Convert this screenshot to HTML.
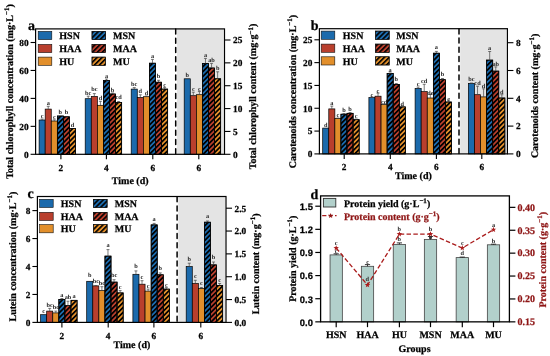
<!DOCTYPE html>
<html><head><meta charset="utf-8"><style>
html,body{margin:0;padding:0;background:#fff;width:550px;height:356px;overflow:hidden}
svg{display:block;will-change:transform} text{text-rendering:geometricPrecision}
</style></head><body>
<svg width="550" height="356" viewBox="0 0 550 356">
<rect width="550" height="356" fill="#fff"/>
<defs>
<pattern id="hatch" patternUnits="userSpaceOnUse" width="3.45" height="10" patternTransform="rotate(45)"><rect x="0" y="0" width="1.7" height="10" fill="#000"/></pattern>
<pattern id="hatch2" patternUnits="userSpaceOnUse" width="3.5" height="10" patternTransform="rotate(45)"><rect x="0" y="0" width="1.6" height="10" fill="#000"/></pattern>
</defs>
<rect x="176.90" y="28.90" width="46.60" height="125.40" fill="#e4e4e4"/>
<rect x="39.10" y="120.00" width="6.08" height="34.30" fill="#1b6aac" stroke="#000" stroke-width="0.7"/>
<path d="M42.14 120.00V119.00M40.64 119.00H43.64" stroke="#444" stroke-width="0.7" fill="none"/>
<text x="42.14" y="117.70" font-size="6.3" text-anchor="middle" fill="#2a2a2a" font-weight="bold" font-family="'Liberation Serif', serif" >c</text>
<rect x="45.18" y="109.10" width="6.08" height="45.20" fill="#b93f2d" stroke="#000" stroke-width="0.7"/>
<path d="M48.22 109.10V106.30M46.72 106.30H49.72" stroke="#444" stroke-width="0.7" fill="none"/>
<text x="48.22" y="105.00" font-size="6.3" text-anchor="middle" fill="#2a2a2a" font-weight="bold" font-family="'Liberation Serif', serif" >a</text>
<rect x="51.26" y="121.00" width="6.08" height="33.30" fill="#e28f2b" stroke="#000" stroke-width="0.7"/>
<path d="M54.30 121.00V119.80M52.80 119.80H55.80" stroke="#444" stroke-width="0.7" fill="none"/>
<text x="54.30" y="118.50" font-size="6.3" text-anchor="middle" fill="#2a2a2a" font-weight="bold" font-family="'Liberation Serif', serif" >c</text>
<rect x="57.34" y="116.00" width="6.08" height="38.30" fill="#1b6aac" stroke="#000" stroke-width="0.7"/>
<rect x="57.34" y="116.00" width="6.08" height="38.30" fill="url(#hatch)" stroke="#000" stroke-width="0.7"/>
<text x="60.38" y="113.90" font-size="6.3" text-anchor="middle" fill="#2a2a2a" font-weight="bold" font-family="'Liberation Serif', serif" >b</text>
<rect x="63.42" y="116.80" width="6.08" height="37.50" fill="#b93f2d" stroke="#000" stroke-width="0.7"/>
<rect x="63.42" y="116.80" width="6.08" height="37.50" fill="url(#hatch)" stroke="#000" stroke-width="0.7"/>
<text x="66.46" y="113.90" font-size="6.3" text-anchor="middle" fill="#2a2a2a" font-weight="bold" font-family="'Liberation Serif', serif" >b</text>
<rect x="69.50" y="128.60" width="6.08" height="25.70" fill="#e28f2b" stroke="#000" stroke-width="0.7"/>
<rect x="69.50" y="128.60" width="6.08" height="25.70" fill="url(#hatch)" stroke="#000" stroke-width="0.7"/>
<text x="72.54" y="126.50" font-size="6.3" text-anchor="middle" fill="#2a2a2a" font-weight="bold" font-family="'Liberation Serif', serif" >d</text>
<rect x="85.20" y="98.70" width="6.08" height="55.60" fill="#1b6aac" stroke="#000" stroke-width="0.7"/>
<path d="M88.24 98.70V96.20M86.74 96.20H89.74" stroke="#444" stroke-width="0.7" fill="none"/>
<text x="88.24" y="94.60" font-size="6.3" text-anchor="middle" fill="#2a2a2a" font-weight="bold" font-family="'Liberation Serif', serif" >bc</text>
<rect x="91.28" y="96.40" width="6.08" height="57.90" fill="#b93f2d" stroke="#000" stroke-width="0.7"/>
<path d="M94.32 96.40V93.60M92.82 93.60H95.82" stroke="#444" stroke-width="0.7" fill="none"/>
<text x="94.32" y="91.10" font-size="6.3" text-anchor="middle" fill="#2a2a2a" font-weight="bold" font-family="'Liberation Serif', serif" >bc</text>
<rect x="97.36" y="105.30" width="6.08" height="49.00" fill="#e28f2b" stroke="#000" stroke-width="0.7"/>
<path d="M100.40 105.30V101.30M98.90 101.30H101.90" stroke="#444" stroke-width="0.7" fill="none"/>
<text x="100.40" y="99.50" font-size="6.3" text-anchor="middle" fill="#2a2a2a" font-weight="bold" font-family="'Liberation Serif', serif" >d</text>
<rect x="103.44" y="80.60" width="6.08" height="73.70" fill="#1b6aac" stroke="#000" stroke-width="0.7"/>
<rect x="103.44" y="80.60" width="6.08" height="73.70" fill="url(#hatch)" stroke="#000" stroke-width="0.7"/>
<path d="M106.48 80.60V79.00M104.98 79.00H107.98" stroke="#444" stroke-width="0.7" fill="none"/>
<text x="106.48" y="77.90" font-size="6.3" text-anchor="middle" fill="#2a2a2a" font-weight="bold" font-family="'Liberation Serif', serif" >a</text>
<rect x="109.52" y="94.00" width="6.08" height="60.30" fill="#b93f2d" stroke="#000" stroke-width="0.7"/>
<rect x="109.52" y="94.00" width="6.08" height="60.30" fill="url(#hatch)" stroke="#000" stroke-width="0.7"/>
<path d="M112.56 94.00V93.00M111.06 93.00H114.06" stroke="#444" stroke-width="0.7" fill="none"/>
<text x="112.56" y="91.60" font-size="6.3" text-anchor="middle" fill="#2a2a2a" font-weight="bold" font-family="'Liberation Serif', serif" >b</text>
<rect x="115.60" y="102.40" width="6.08" height="51.90" fill="#e28f2b" stroke="#000" stroke-width="0.7"/>
<rect x="115.60" y="102.40" width="6.08" height="51.90" fill="url(#hatch)" stroke="#000" stroke-width="0.7"/>
<path d="M118.64 102.40V101.50M117.14 101.50H120.14" stroke="#444" stroke-width="0.7" fill="none"/>
<text x="118.64" y="99.30" font-size="6.3" text-anchor="middle" fill="#2a2a2a" font-weight="bold" font-family="'Liberation Serif', serif" >cd</text>
<rect x="131.20" y="89.10" width="6.08" height="65.20" fill="#1b6aac" stroke="#000" stroke-width="0.7"/>
<path d="M134.24 89.10V87.60M132.74 87.60H135.74" stroke="#444" stroke-width="0.7" fill="none"/>
<text x="134.24" y="86.00" font-size="6.3" text-anchor="middle" fill="#2a2a2a" font-weight="bold" font-family="'Liberation Serif', serif" >bc</text>
<rect x="137.28" y="97.40" width="6.08" height="56.90" fill="#b93f2d" stroke="#000" stroke-width="0.7"/>
<path d="M140.32 97.40V94.80M138.82 94.80H141.82" stroke="#444" stroke-width="0.7" fill="none"/>
<text x="140.32" y="92.90" font-size="6.3" text-anchor="middle" fill="#2a2a2a" font-weight="bold" font-family="'Liberation Serif', serif" >d</text>
<rect x="143.36" y="96.70" width="6.08" height="57.60" fill="#e28f2b" stroke="#000" stroke-width="0.7"/>
<path d="M146.40 96.70V96.00M144.90 96.00H147.90" stroke="#444" stroke-width="0.7" fill="none"/>
<text x="146.40" y="94.80" font-size="6.3" text-anchor="middle" fill="#2a2a2a" font-weight="bold" font-family="'Liberation Serif', serif" >d</text>
<rect x="149.44" y="63.20" width="6.08" height="91.10" fill="#1b6aac" stroke="#000" stroke-width="0.7"/>
<rect x="149.44" y="63.20" width="6.08" height="91.10" fill="url(#hatch)" stroke="#000" stroke-width="0.7"/>
<path d="M152.48 63.20V59.40M150.98 59.40H153.98" stroke="#444" stroke-width="0.7" fill="none"/>
<text x="152.48" y="58.20" font-size="6.3" text-anchor="middle" fill="#2a2a2a" font-weight="bold" font-family="'Liberation Serif', serif" >a</text>
<rect x="155.52" y="82.20" width="6.08" height="72.10" fill="#b93f2d" stroke="#000" stroke-width="0.7"/>
<rect x="155.52" y="82.20" width="6.08" height="72.10" fill="url(#hatch)" stroke="#000" stroke-width="0.7"/>
<path d="M158.56 82.20V80.30M157.06 80.30H160.06" stroke="#444" stroke-width="0.7" fill="none"/>
<text x="158.56" y="78.40" font-size="6.3" text-anchor="middle" fill="#2a2a2a" font-weight="bold" font-family="'Liberation Serif', serif" >b</text>
<rect x="161.60" y="89.10" width="6.08" height="65.20" fill="#e28f2b" stroke="#000" stroke-width="0.7"/>
<rect x="161.60" y="89.10" width="6.08" height="65.20" fill="url(#hatch)" stroke="#000" stroke-width="0.7"/>
<path d="M164.64 89.10V87.60M163.14 87.60H166.14" stroke="#444" stroke-width="0.7" fill="none"/>
<text x="164.64" y="86.60" font-size="6.3" text-anchor="middle" fill="#2a2a2a" font-weight="bold" font-family="'Liberation Serif', serif" >c</text>
<rect x="184.20" y="78.80" width="6.08" height="75.50" fill="#1b6aac" stroke="#000" stroke-width="0.7"/>
<text x="187.24" y="77.40" font-size="6.3" text-anchor="middle" fill="#2a2a2a" font-weight="bold" font-family="'Liberation Serif', serif" >b</text>
<rect x="190.28" y="95.70" width="6.08" height="58.60" fill="#b93f2d" stroke="#000" stroke-width="0.7"/>
<path d="M193.32 95.70V92.20M191.82 92.20H194.82" stroke="#444" stroke-width="0.7" fill="none"/>
<text x="193.32" y="90.80" font-size="6.3" text-anchor="middle" fill="#2a2a2a" font-weight="bold" font-family="'Liberation Serif', serif" >c</text>
<rect x="196.36" y="94.70" width="6.08" height="59.60" fill="#e28f2b" stroke="#000" stroke-width="0.7"/>
<path d="M199.40 94.70V91.50M197.90 91.50H200.90" stroke="#444" stroke-width="0.7" fill="none"/>
<text x="199.40" y="90.50" font-size="6.3" text-anchor="middle" fill="#2a2a2a" font-weight="bold" font-family="'Liberation Serif', serif" >c</text>
<rect x="202.44" y="63.40" width="6.08" height="90.90" fill="#1b6aac" stroke="#000" stroke-width="0.7"/>
<rect x="202.44" y="63.40" width="6.08" height="90.90" fill="url(#hatch)" stroke="#000" stroke-width="0.7"/>
<path d="M205.48 63.40V58.40M203.98 58.40H206.98" stroke="#444" stroke-width="0.7" fill="none"/>
<text x="205.48" y="57.00" font-size="6.3" text-anchor="middle" fill="#2a2a2a" font-weight="bold" font-family="'Liberation Serif', serif" >a</text>
<rect x="208.52" y="68.00" width="6.08" height="86.30" fill="#b93f2d" stroke="#000" stroke-width="0.7"/>
<rect x="208.52" y="68.00" width="6.08" height="86.30" fill="url(#hatch)" stroke="#000" stroke-width="0.7"/>
<path d="M211.56 68.00V63.40M210.06 63.40H213.06" stroke="#444" stroke-width="0.7" fill="none"/>
<text x="211.56" y="62.00" font-size="6.3" text-anchor="middle" fill="#2a2a2a" font-weight="bold" font-family="'Liberation Serif', serif" >ab</text>
<rect x="214.60" y="78.80" width="6.08" height="75.50" fill="#e28f2b" stroke="#000" stroke-width="0.7"/>
<rect x="214.60" y="78.80" width="6.08" height="75.50" fill="url(#hatch)" stroke="#000" stroke-width="0.7"/>
<path d="M217.64 78.80V71.80M216.14 71.80H219.14" stroke="#444" stroke-width="0.7" fill="none"/>
<text x="217.64" y="70.40" font-size="6.3" text-anchor="middle" fill="#2a2a2a" font-weight="bold" font-family="'Liberation Serif', serif" >b</text>
<line x1="175.70" y1="29.10" x2="175.70" y2="154.30" stroke="#000" stroke-width="1.5" stroke-linecap="round" stroke-dasharray="5 4.2"/>
<rect x="35.60" y="28.90" width="188.90" height="125.40" fill="none" stroke="#000" stroke-width="1.2"/>
<line x1="30.60" y1="154.30" x2="35.60" y2="154.30" stroke="#000" stroke-width="1.1"/>
<text x="28.60" y="157.60" font-size="9.3" text-anchor="end" fill="#000" font-weight="bold" font-family="'Liberation Serif', serif" stroke="#000" stroke-width="0.25" >0</text>
<line x1="30.60" y1="126.35" x2="35.60" y2="126.35" stroke="#000" stroke-width="1.1"/>
<text x="28.60" y="129.65" font-size="9.3" text-anchor="end" fill="#000" font-weight="bold" font-family="'Liberation Serif', serif" stroke="#000" stroke-width="0.25" >20</text>
<line x1="30.60" y1="98.40" x2="35.60" y2="98.40" stroke="#000" stroke-width="1.1"/>
<text x="28.60" y="101.70" font-size="9.3" text-anchor="end" fill="#000" font-weight="bold" font-family="'Liberation Serif', serif" stroke="#000" stroke-width="0.25" >40</text>
<line x1="30.60" y1="70.45" x2="35.60" y2="70.45" stroke="#000" stroke-width="1.1"/>
<text x="28.60" y="73.75" font-size="9.3" text-anchor="end" fill="#000" font-weight="bold" font-family="'Liberation Serif', serif" stroke="#000" stroke-width="0.25" >60</text>
<line x1="30.60" y1="42.50" x2="35.60" y2="42.50" stroke="#000" stroke-width="1.1"/>
<text x="28.60" y="45.80" font-size="9.3" text-anchor="end" fill="#000" font-weight="bold" font-family="'Liberation Serif', serif" stroke="#000" stroke-width="0.25" >80</text>
<line x1="224.50" y1="154.30" x2="230.50" y2="154.30" stroke="#000" stroke-width="1.1"/>
<text x="233.00" y="157.60" font-size="9.3" text-anchor="start" fill="#000" font-weight="bold" font-family="'Liberation Serif', serif" stroke="#000" stroke-width="0.25" >0</text>
<line x1="224.50" y1="131.44" x2="230.50" y2="131.44" stroke="#000" stroke-width="1.1"/>
<text x="233.00" y="134.74" font-size="9.3" text-anchor="start" fill="#000" font-weight="bold" font-family="'Liberation Serif', serif" stroke="#000" stroke-width="0.25" >5</text>
<line x1="224.50" y1="108.58" x2="230.50" y2="108.58" stroke="#000" stroke-width="1.1"/>
<text x="233.00" y="111.88" font-size="9.3" text-anchor="start" fill="#000" font-weight="bold" font-family="'Liberation Serif', serif" stroke="#000" stroke-width="0.25" >10</text>
<line x1="224.50" y1="85.72" x2="230.50" y2="85.72" stroke="#000" stroke-width="1.1"/>
<text x="233.00" y="89.02" font-size="9.3" text-anchor="start" fill="#000" font-weight="bold" font-family="'Liberation Serif', serif" stroke="#000" stroke-width="0.25" >15</text>
<line x1="224.50" y1="62.86" x2="230.50" y2="62.86" stroke="#000" stroke-width="1.1"/>
<text x="233.00" y="66.16" font-size="9.3" text-anchor="start" fill="#000" font-weight="bold" font-family="'Liberation Serif', serif" stroke="#000" stroke-width="0.25" >20</text>
<line x1="224.50" y1="40.00" x2="230.50" y2="40.00" stroke="#000" stroke-width="1.1"/>
<text x="233.00" y="43.30" font-size="9.3" text-anchor="start" fill="#000" font-weight="bold" font-family="'Liberation Serif', serif" stroke="#000" stroke-width="0.25" >25</text>
<line x1="60.90" y1="154.30" x2="60.90" y2="159.30" stroke="#000" stroke-width="1.1"/>
<text x="60.90" y="170.60" font-size="9.3" text-anchor="middle" fill="#000" font-weight="bold" font-family="'Liberation Serif', serif" stroke="#000" stroke-width="0.25" >2</text>
<line x1="106.40" y1="154.30" x2="106.40" y2="159.30" stroke="#000" stroke-width="1.1"/>
<text x="106.40" y="170.60" font-size="9.3" text-anchor="middle" fill="#000" font-weight="bold" font-family="'Liberation Serif', serif" stroke="#000" stroke-width="0.25" >4</text>
<line x1="152.80" y1="154.30" x2="152.80" y2="159.30" stroke="#000" stroke-width="1.1"/>
<text x="152.80" y="170.60" font-size="9.3" text-anchor="middle" fill="#000" font-weight="bold" font-family="'Liberation Serif', serif" stroke="#000" stroke-width="0.25" >6</text>
<line x1="198.80" y1="154.30" x2="198.80" y2="159.30" stroke="#000" stroke-width="1.1"/>
<text x="198.80" y="170.60" font-size="9.3" text-anchor="middle" fill="#000" font-weight="bold" font-family="'Liberation Serif', serif" stroke="#000" stroke-width="0.25" >6</text>
<rect x="38.20" y="31.40" width="13.6" height="8.2" fill="#1b6aac" stroke="#111" stroke-width="0.6"/>
<text x="59.30" y="39.10" font-size="10" text-anchor="start" fill="#000" font-weight="bold" font-family="'Liberation Serif', serif" stroke="#000" stroke-width="0.25" >HSN</text>
<rect x="38.20" y="44.40" width="13.6" height="8.2" fill="#b93f2d" stroke="#111" stroke-width="0.6"/>
<text x="59.30" y="52.10" font-size="10" text-anchor="start" fill="#000" font-weight="bold" font-family="'Liberation Serif', serif" stroke="#000" stroke-width="0.25" >HAA</text>
<rect x="38.20" y="57.10" width="13.6" height="8.2" fill="#e28f2b" stroke="#111" stroke-width="0.6"/>
<text x="59.30" y="64.80" font-size="10" text-anchor="start" fill="#000" font-weight="bold" font-family="'Liberation Serif', serif" stroke="#000" stroke-width="0.25" >HU</text>
<rect x="92.00" y="31.40" width="13.6" height="8.2" fill="#1b6aac" stroke="#111" stroke-width="0.6"/>
<rect x="92.00" y="31.40" width="13.6" height="8.2" fill="url(#hatch2)" stroke="#111" stroke-width="0.6"/>
<text x="113.00" y="39.10" font-size="10" text-anchor="start" fill="#000" font-weight="bold" font-family="'Liberation Serif', serif" stroke="#000" stroke-width="0.25" >MSN</text>
<rect x="92.00" y="44.40" width="13.6" height="8.2" fill="#b93f2d" stroke="#111" stroke-width="0.6"/>
<rect x="92.00" y="44.40" width="13.6" height="8.2" fill="url(#hatch2)" stroke="#111" stroke-width="0.6"/>
<text x="113.00" y="52.10" font-size="10" text-anchor="start" fill="#000" font-weight="bold" font-family="'Liberation Serif', serif" stroke="#000" stroke-width="0.25" >MAA</text>
<rect x="92.00" y="57.10" width="13.6" height="8.2" fill="#e28f2b" stroke="#111" stroke-width="0.6"/>
<rect x="92.00" y="57.10" width="13.6" height="8.2" fill="url(#hatch2)" stroke="#111" stroke-width="0.6"/>
<text x="113.00" y="64.80" font-size="10" text-anchor="start" fill="#000" font-weight="bold" font-family="'Liberation Serif', serif" stroke="#000" stroke-width="0.25" >MU</text>
<text transform="translate(13.20,91.50) rotate(-90)" x="0" y="0" font-size="10" text-anchor="middle" fill="#000" font-weight="bold" font-family="'Liberation Serif', serif" stroke="#000" stroke-width="0.25">Total chlorophyll concentration (mg·L<tspan dy="-3.8" font-size="7">−1</tspan><tspan dy="3.8">)</tspan></text>
<text transform="translate(256.40,96.45) rotate(-90)" x="0" y="0" font-size="10" text-anchor="middle" fill="#000" font-weight="bold" font-family="'Liberation Serif', serif" stroke="#000" stroke-width="0.25">Total chlorophyll content (mg·g<tspan dy="-3.8" font-size="7">−1</tspan><tspan dy="3.8">)</tspan></text>
<text x="130.20" y="184.30" font-size="10" text-anchor="middle" fill="#000" font-weight="bold" font-family="'Liberation Serif', serif" stroke="#000" stroke-width="0.25" >Time (d)</text>
<text x="28.00" y="29.60" font-size="14" text-anchor="start" fill="#000" font-weight="bold" font-family="'Liberation Serif', serif" stroke="#000" stroke-width="0.25" >a</text>
<rect x="460.20" y="28.70" width="46.20" height="125.20" fill="#e4e4e4"/>
<rect x="322.70" y="128.10" width="6.08" height="25.80" fill="#1b6aac" stroke="#000" stroke-width="0.7"/>
<text x="325.74" y="126.60" font-size="6.3" text-anchor="middle" fill="#2a2a2a" font-weight="bold" font-family="'Liberation Serif', serif" >d</text>
<rect x="328.78" y="108.90" width="6.08" height="45.00" fill="#b93f2d" stroke="#000" stroke-width="0.7"/>
<path d="M331.82 108.90V106.10M330.32 106.10H333.32" stroke="#444" stroke-width="0.7" fill="none"/>
<text x="331.82" y="104.50" font-size="6.3" text-anchor="middle" fill="#2a2a2a" font-weight="bold" font-family="'Liberation Serif', serif" >a</text>
<rect x="334.86" y="118.40" width="6.08" height="35.50" fill="#e28f2b" stroke="#000" stroke-width="0.7"/>
<path d="M337.90 118.40V118.00M336.40 118.00H339.40" stroke="#444" stroke-width="0.7" fill="none"/>
<text x="337.90" y="117.10" font-size="6.3" text-anchor="middle" fill="#2a2a2a" font-weight="bold" font-family="'Liberation Serif', serif" >c</text>
<rect x="340.94" y="114.20" width="6.08" height="39.70" fill="#1b6aac" stroke="#000" stroke-width="0.7"/>
<rect x="340.94" y="114.20" width="6.08" height="39.70" fill="url(#hatch)" stroke="#000" stroke-width="0.7"/>
<path d="M343.98 114.20V113.50M342.48 113.50H345.48" stroke="#444" stroke-width="0.7" fill="none"/>
<text x="343.98" y="112.00" font-size="6.3" text-anchor="middle" fill="#2a2a2a" font-weight="bold" font-family="'Liberation Serif', serif" >b</text>
<rect x="347.02" y="113.30" width="6.08" height="40.60" fill="#b93f2d" stroke="#000" stroke-width="0.7"/>
<rect x="347.02" y="113.30" width="6.08" height="40.60" fill="url(#hatch)" stroke="#000" stroke-width="0.7"/>
<path d="M350.06 113.30V112.50M348.56 112.50H351.56" stroke="#444" stroke-width="0.7" fill="none"/>
<text x="350.06" y="111.40" font-size="6.3" text-anchor="middle" fill="#2a2a2a" font-weight="bold" font-family="'Liberation Serif', serif" >b</text>
<rect x="353.10" y="119.70" width="6.08" height="34.20" fill="#e28f2b" stroke="#000" stroke-width="0.7"/>
<rect x="353.10" y="119.70" width="6.08" height="34.20" fill="url(#hatch)" stroke="#000" stroke-width="0.7"/>
<path d="M356.14 119.70V119.00M354.64 119.00H357.64" stroke="#444" stroke-width="0.7" fill="none"/>
<text x="356.14" y="118.40" font-size="6.3" text-anchor="middle" fill="#2a2a2a" font-weight="bold" font-family="'Liberation Serif', serif" >c</text>
<rect x="368.90" y="97.60" width="6.08" height="56.30" fill="#1b6aac" stroke="#000" stroke-width="0.7"/>
<path d="M371.94 97.60V97.00M370.44 97.00H373.44" stroke="#444" stroke-width="0.7" fill="none"/>
<text x="371.94" y="96.60" font-size="6.3" text-anchor="middle" fill="#2a2a2a" font-weight="bold" font-family="'Liberation Serif', serif" >c</text>
<rect x="374.98" y="96.20" width="6.08" height="57.70" fill="#b93f2d" stroke="#000" stroke-width="0.7"/>
<path d="M378.02 96.20V93.10M376.52 93.10H379.52" stroke="#444" stroke-width="0.7" fill="none"/>
<text x="378.02" y="93.10" font-size="6.3" text-anchor="middle" fill="#2a2a2a" font-weight="bold" font-family="'Liberation Serif', serif" >c</text>
<rect x="381.06" y="104.60" width="6.08" height="49.30" fill="#e28f2b" stroke="#000" stroke-width="0.7"/>
<path d="M384.10 104.60V104.00M382.60 104.00H385.60" stroke="#444" stroke-width="0.7" fill="none"/>
<text x="384.10" y="103.60" font-size="6.3" text-anchor="middle" fill="#2a2a2a" font-weight="bold" font-family="'Liberation Serif', serif" >cd</text>
<rect x="387.14" y="73.40" width="6.08" height="80.50" fill="#1b6aac" stroke="#000" stroke-width="0.7"/>
<rect x="387.14" y="73.40" width="6.08" height="80.50" fill="url(#hatch)" stroke="#000" stroke-width="0.7"/>
<path d="M390.18 73.40V73.00M388.68 73.00H391.68" stroke="#444" stroke-width="0.7" fill="none"/>
<text x="390.18" y="72.00" font-size="6.3" text-anchor="middle" fill="#2a2a2a" font-weight="bold" font-family="'Liberation Serif', serif" >a</text>
<rect x="393.22" y="84.40" width="6.08" height="69.50" fill="#b93f2d" stroke="#000" stroke-width="0.7"/>
<rect x="393.22" y="84.40" width="6.08" height="69.50" fill="url(#hatch)" stroke="#000" stroke-width="0.7"/>
<path d="M396.26 84.40V83.50M394.76 83.50H397.76" stroke="#444" stroke-width="0.7" fill="none"/>
<text x="396.26" y="81.20" font-size="6.3" text-anchor="middle" fill="#2a2a2a" font-weight="bold" font-family="'Liberation Serif', serif" >b</text>
<rect x="399.30" y="106.90" width="6.08" height="47.00" fill="#e28f2b" stroke="#000" stroke-width="0.7"/>
<rect x="399.30" y="106.90" width="6.08" height="47.00" fill="url(#hatch)" stroke="#000" stroke-width="0.7"/>
<path d="M402.34 106.90V106.00M400.84 106.00H403.84" stroke="#444" stroke-width="0.7" fill="none"/>
<text x="402.34" y="105.70" font-size="6.3" text-anchor="middle" fill="#2a2a2a" font-weight="bold" font-family="'Liberation Serif', serif" >d</text>
<rect x="415.10" y="88.50" width="6.08" height="65.40" fill="#1b6aac" stroke="#000" stroke-width="0.7"/>
<path d="M418.14 88.50V87.00M416.64 87.00H419.64" stroke="#444" stroke-width="0.7" fill="none"/>
<text x="418.14" y="86.00" font-size="6.3" text-anchor="middle" fill="#2a2a2a" font-weight="bold" font-family="'Liberation Serif', serif" >c</text>
<rect x="421.18" y="91.60" width="6.08" height="62.30" fill="#b93f2d" stroke="#000" stroke-width="0.7"/>
<path d="M424.22 91.60V84.30M422.72 84.30H425.72" stroke="#444" stroke-width="0.7" fill="none"/>
<text x="424.22" y="83.30" font-size="6.3" text-anchor="middle" fill="#2a2a2a" font-weight="bold" font-family="'Liberation Serif', serif" >cd</text>
<rect x="427.26" y="98.00" width="6.08" height="55.90" fill="#e28f2b" stroke="#000" stroke-width="0.7"/>
<path d="M430.30 98.00V94.30M428.80 94.30H431.80" stroke="#444" stroke-width="0.7" fill="none"/>
<text x="430.30" y="95.20" font-size="6.3" text-anchor="middle" fill="#2a2a2a" font-weight="bold" font-family="'Liberation Serif', serif" >de</text>
<rect x="433.34" y="53.20" width="6.08" height="100.70" fill="#1b6aac" stroke="#000" stroke-width="0.7"/>
<rect x="433.34" y="53.20" width="6.08" height="100.70" fill="url(#hatch)" stroke="#000" stroke-width="0.7"/>
<path d="M436.38 53.20V51.40M434.88 51.40H437.88" stroke="#444" stroke-width="0.7" fill="none"/>
<text x="436.38" y="48.70" font-size="6.3" text-anchor="middle" fill="#2a2a2a" font-weight="bold" font-family="'Liberation Serif', serif" >a</text>
<rect x="439.42" y="79.70" width="6.08" height="74.20" fill="#b93f2d" stroke="#000" stroke-width="0.7"/>
<rect x="439.42" y="79.70" width="6.08" height="74.20" fill="url(#hatch)" stroke="#000" stroke-width="0.7"/>
<path d="M442.46 79.70V78.50M440.96 78.50H443.96" stroke="#444" stroke-width="0.7" fill="none"/>
<text x="442.46" y="76.00" font-size="6.3" text-anchor="middle" fill="#2a2a2a" font-weight="bold" font-family="'Liberation Serif', serif" >b</text>
<rect x="445.50" y="102.00" width="6.08" height="51.90" fill="#e28f2b" stroke="#000" stroke-width="0.7"/>
<rect x="445.50" y="102.00" width="6.08" height="51.90" fill="url(#hatch)" stroke="#000" stroke-width="0.7"/>
<path d="M448.54 102.00V101.00M447.04 101.00H450.04" stroke="#444" stroke-width="0.7" fill="none"/>
<text x="448.54" y="100.70" font-size="6.3" text-anchor="middle" fill="#2a2a2a" font-weight="bold" font-family="'Liberation Serif', serif" >e</text>
<rect x="468.40" y="83.40" width="6.08" height="70.50" fill="#1b6aac" stroke="#000" stroke-width="0.7"/>
<path d="M471.44 83.40V83.00M469.94 83.00H472.94" stroke="#444" stroke-width="0.7" fill="none"/>
<text x="471.44" y="81.20" font-size="6.3" text-anchor="middle" fill="#2a2a2a" font-weight="bold" font-family="'Liberation Serif', serif" >bc</text>
<rect x="474.48" y="94.70" width="6.08" height="59.20" fill="#b93f2d" stroke="#000" stroke-width="0.7"/>
<path d="M477.52 94.70V86.20M476.02 86.20H479.02" stroke="#444" stroke-width="0.7" fill="none"/>
<text x="477.52" y="85.40" font-size="6.3" text-anchor="middle" fill="#2a2a2a" font-weight="bold" font-family="'Liberation Serif', serif" >cd</text>
<rect x="480.56" y="96.90" width="6.08" height="57.00" fill="#e28f2b" stroke="#000" stroke-width="0.7"/>
<path d="M483.60 96.90V88.80M482.10 88.80H485.10" stroke="#444" stroke-width="0.7" fill="none"/>
<text x="483.60" y="87.90" font-size="6.3" text-anchor="middle" fill="#2a2a2a" font-weight="bold" font-family="'Liberation Serif', serif" >d</text>
<rect x="486.64" y="60.10" width="6.08" height="93.80" fill="#1b6aac" stroke="#000" stroke-width="0.7"/>
<rect x="486.64" y="60.10" width="6.08" height="93.80" fill="url(#hatch)" stroke="#000" stroke-width="0.7"/>
<path d="M489.68 60.10V51.50M488.18 51.50H491.18" stroke="#444" stroke-width="0.7" fill="none"/>
<text x="489.68" y="49.80" font-size="6.3" text-anchor="middle" fill="#2a2a2a" font-weight="bold" font-family="'Liberation Serif', serif" >a</text>
<rect x="492.72" y="71.10" width="6.08" height="82.80" fill="#b93f2d" stroke="#000" stroke-width="0.7"/>
<rect x="492.72" y="71.10" width="6.08" height="82.80" fill="url(#hatch)" stroke="#000" stroke-width="0.7"/>
<path d="M495.76 71.10V66.90M494.26 66.90H497.26" stroke="#444" stroke-width="0.7" fill="none"/>
<text x="495.76" y="66.00" font-size="6.3" text-anchor="middle" fill="#2a2a2a" font-weight="bold" font-family="'Liberation Serif', serif" >ab</text>
<rect x="498.80" y="98.00" width="6.08" height="55.90" fill="#e28f2b" stroke="#000" stroke-width="0.7"/>
<rect x="498.80" y="98.00" width="6.08" height="55.90" fill="url(#hatch)" stroke="#000" stroke-width="0.7"/>
<path d="M501.84 98.00V94.70M500.34 94.70H503.34" stroke="#444" stroke-width="0.7" fill="none"/>
<text x="501.84" y="93.50" font-size="6.3" text-anchor="middle" fill="#2a2a2a" font-weight="bold" font-family="'Liberation Serif', serif" >d</text>
<line x1="459.00" y1="28.90" x2="459.00" y2="153.90" stroke="#000" stroke-width="1.5" stroke-linecap="round" stroke-dasharray="5 4.2"/>
<rect x="319.40" y="28.70" width="188.00" height="125.20" fill="none" stroke="#000" stroke-width="1.2"/>
<line x1="314.40" y1="153.90" x2="319.40" y2="153.90" stroke="#000" stroke-width="1.1"/>
<text x="312.40" y="157.20" font-size="9.3" text-anchor="end" fill="#000" font-weight="bold" font-family="'Liberation Serif', serif" stroke="#000" stroke-width="0.25" >0</text>
<line x1="314.40" y1="131.08" x2="319.40" y2="131.08" stroke="#000" stroke-width="1.1"/>
<text x="312.40" y="134.38" font-size="9.3" text-anchor="end" fill="#000" font-weight="bold" font-family="'Liberation Serif', serif" stroke="#000" stroke-width="0.25" >5</text>
<line x1="314.40" y1="108.26" x2="319.40" y2="108.26" stroke="#000" stroke-width="1.1"/>
<text x="312.40" y="111.56" font-size="9.3" text-anchor="end" fill="#000" font-weight="bold" font-family="'Liberation Serif', serif" stroke="#000" stroke-width="0.25" >10</text>
<line x1="314.40" y1="85.44" x2="319.40" y2="85.44" stroke="#000" stroke-width="1.1"/>
<text x="312.40" y="88.74" font-size="9.3" text-anchor="end" fill="#000" font-weight="bold" font-family="'Liberation Serif', serif" stroke="#000" stroke-width="0.25" >15</text>
<line x1="314.40" y1="62.62" x2="319.40" y2="62.62" stroke="#000" stroke-width="1.1"/>
<text x="312.40" y="65.92" font-size="9.3" text-anchor="end" fill="#000" font-weight="bold" font-family="'Liberation Serif', serif" stroke="#000" stroke-width="0.25" >20</text>
<line x1="314.40" y1="39.80" x2="319.40" y2="39.80" stroke="#000" stroke-width="1.1"/>
<text x="312.40" y="43.10" font-size="9.3" text-anchor="end" fill="#000" font-weight="bold" font-family="'Liberation Serif', serif" stroke="#000" stroke-width="0.25" >25</text>
<line x1="507.40" y1="153.90" x2="513.40" y2="153.90" stroke="#000" stroke-width="1.1"/>
<text x="515.90" y="157.20" font-size="9.3" text-anchor="start" fill="#000" font-weight="bold" font-family="'Liberation Serif', serif" stroke="#000" stroke-width="0.25" >0</text>
<line x1="507.40" y1="126.10" x2="513.40" y2="126.10" stroke="#000" stroke-width="1.1"/>
<text x="515.90" y="129.40" font-size="9.3" text-anchor="start" fill="#000" font-weight="bold" font-family="'Liberation Serif', serif" stroke="#000" stroke-width="0.25" >2</text>
<line x1="507.40" y1="98.30" x2="513.40" y2="98.30" stroke="#000" stroke-width="1.1"/>
<text x="515.90" y="101.60" font-size="9.3" text-anchor="start" fill="#000" font-weight="bold" font-family="'Liberation Serif', serif" stroke="#000" stroke-width="0.25" >4</text>
<line x1="507.40" y1="70.50" x2="513.40" y2="70.50" stroke="#000" stroke-width="1.1"/>
<text x="515.90" y="73.80" font-size="9.3" text-anchor="start" fill="#000" font-weight="bold" font-family="'Liberation Serif', serif" stroke="#000" stroke-width="0.25" >6</text>
<line x1="507.40" y1="42.70" x2="513.40" y2="42.70" stroke="#000" stroke-width="1.1"/>
<text x="515.90" y="46.00" font-size="9.3" text-anchor="start" fill="#000" font-weight="bold" font-family="'Liberation Serif', serif" stroke="#000" stroke-width="0.25" >8</text>
<line x1="344.20" y1="153.90" x2="344.20" y2="158.90" stroke="#000" stroke-width="1.1"/>
<text x="344.20" y="170.20" font-size="9.3" text-anchor="middle" fill="#000" font-weight="bold" font-family="'Liberation Serif', serif" stroke="#000" stroke-width="0.25" >2</text>
<line x1="390.30" y1="153.90" x2="390.30" y2="158.90" stroke="#000" stroke-width="1.1"/>
<text x="390.30" y="170.20" font-size="9.3" text-anchor="middle" fill="#000" font-weight="bold" font-family="'Liberation Serif', serif" stroke="#000" stroke-width="0.25" >4</text>
<line x1="436.40" y1="153.90" x2="436.40" y2="158.90" stroke="#000" stroke-width="1.1"/>
<text x="436.40" y="170.20" font-size="9.3" text-anchor="middle" fill="#000" font-weight="bold" font-family="'Liberation Serif', serif" stroke="#000" stroke-width="0.25" >6</text>
<line x1="481.80" y1="153.90" x2="481.80" y2="158.90" stroke="#000" stroke-width="1.1"/>
<text x="481.80" y="170.20" font-size="9.3" text-anchor="middle" fill="#000" font-weight="bold" font-family="'Liberation Serif', serif" stroke="#000" stroke-width="0.25" >6</text>
<rect x="321.20" y="31.10" width="13.6" height="8.2" fill="#1b6aac" stroke="#111" stroke-width="0.6"/>
<text x="342.80" y="38.80" font-size="10" text-anchor="start" fill="#000" font-weight="bold" font-family="'Liberation Serif', serif" stroke="#000" stroke-width="0.25" >HSN</text>
<rect x="321.20" y="44.10" width="13.6" height="8.2" fill="#b93f2d" stroke="#111" stroke-width="0.6"/>
<text x="342.80" y="51.80" font-size="10" text-anchor="start" fill="#000" font-weight="bold" font-family="'Liberation Serif', serif" stroke="#000" stroke-width="0.25" >HAA</text>
<rect x="321.20" y="56.80" width="13.6" height="8.2" fill="#e28f2b" stroke="#111" stroke-width="0.6"/>
<text x="342.80" y="64.50" font-size="10" text-anchor="start" fill="#000" font-weight="bold" font-family="'Liberation Serif', serif" stroke="#000" stroke-width="0.25" >HU</text>
<rect x="375.60" y="31.10" width="13.6" height="8.2" fill="#1b6aac" stroke="#111" stroke-width="0.6"/>
<rect x="375.60" y="31.10" width="13.6" height="8.2" fill="url(#hatch2)" stroke="#111" stroke-width="0.6"/>
<text x="396.20" y="38.80" font-size="10" text-anchor="start" fill="#000" font-weight="bold" font-family="'Liberation Serif', serif" stroke="#000" stroke-width="0.25" >MSN</text>
<rect x="375.60" y="44.10" width="13.6" height="8.2" fill="#b93f2d" stroke="#111" stroke-width="0.6"/>
<rect x="375.60" y="44.10" width="13.6" height="8.2" fill="url(#hatch2)" stroke="#111" stroke-width="0.6"/>
<text x="396.20" y="51.80" font-size="10" text-anchor="start" fill="#000" font-weight="bold" font-family="'Liberation Serif', serif" stroke="#000" stroke-width="0.25" >MAA</text>
<rect x="375.60" y="56.80" width="13.6" height="8.2" fill="#e28f2b" stroke="#111" stroke-width="0.6"/>
<rect x="375.60" y="56.80" width="13.6" height="8.2" fill="url(#hatch2)" stroke="#111" stroke-width="0.6"/>
<text x="396.20" y="64.50" font-size="10" text-anchor="start" fill="#000" font-weight="bold" font-family="'Liberation Serif', serif" stroke="#000" stroke-width="0.25" >MU</text>
<text transform="translate(295.70,91.50) rotate(-90)" x="0" y="0" font-size="10" text-anchor="middle" fill="#000" font-weight="bold" font-family="'Liberation Serif', serif" stroke="#000" stroke-width="0.25">Carotenoids concentration (mg·L<tspan dy="-3.8" font-size="7">−1</tspan><tspan dy="3.8">)</tspan></text>
<text transform="translate(537.90,95.85) rotate(-90)" x="0" y="0" font-size="10" text-anchor="middle" fill="#000" font-weight="bold" font-family="'Liberation Serif', serif" stroke="#000" stroke-width="0.25">Carotenoids content (mg·g<tspan dy="-3.8" font-size="7">−1</tspan><tspan dy="3.8">)</tspan></text>
<text x="413.40" y="179.40" font-size="10" text-anchor="middle" fill="#000" font-weight="bold" font-family="'Liberation Serif', serif" stroke="#000" stroke-width="0.25" >Time (d)</text>
<text x="310.80" y="29.60" font-size="14" text-anchor="start" fill="#000" font-weight="bold" font-family="'Liberation Serif', serif" stroke="#000" stroke-width="0.25" >b</text>
<rect x="178.30" y="196.50" width="46.70" height="125.90" fill="#e4e4e4"/>
<rect x="40.60" y="314.70" width="6.08" height="7.70" fill="#1b6aac" stroke="#000" stroke-width="0.7"/>
<text x="43.64" y="312.50" font-size="6.3" text-anchor="middle" fill="#2a2a2a" font-weight="bold" font-family="'Liberation Serif', serif" >c</text>
<rect x="46.68" y="311.10" width="6.08" height="11.30" fill="#b93f2d" stroke="#000" stroke-width="0.7"/>
<path d="M49.72 311.10V308.40M48.22 308.40H51.22" stroke="#444" stroke-width="0.7" fill="none"/>
<text x="49.72" y="306.60" font-size="6.3" text-anchor="middle" fill="#2a2a2a" font-weight="bold" font-family="'Liberation Serif', serif" >bc</text>
<rect x="52.76" y="312.90" width="6.08" height="9.50" fill="#e28f2b" stroke="#000" stroke-width="0.7"/>
<path d="M55.80 312.90V311.10M54.30 311.10H57.30" stroke="#444" stroke-width="0.7" fill="none"/>
<text x="55.80" y="309.30" font-size="6.3" text-anchor="middle" fill="#2a2a2a" font-weight="bold" font-family="'Liberation Serif', serif" >bc</text>
<rect x="58.84" y="299.40" width="6.08" height="23.00" fill="#1b6aac" stroke="#000" stroke-width="0.7"/>
<rect x="58.84" y="299.40" width="6.08" height="23.00" fill="url(#hatch)" stroke="#000" stroke-width="0.7"/>
<path d="M61.88 299.40V298.50M60.38 298.50H63.38" stroke="#444" stroke-width="0.7" fill="none"/>
<text x="61.88" y="297.20" font-size="6.3" text-anchor="middle" fill="#2a2a2a" font-weight="bold" font-family="'Liberation Serif', serif" >a</text>
<rect x="64.92" y="305.70" width="6.08" height="16.70" fill="#b93f2d" stroke="#000" stroke-width="0.7"/>
<rect x="64.92" y="305.70" width="6.08" height="16.70" fill="url(#hatch)" stroke="#000" stroke-width="0.7"/>
<path d="M67.96 305.70V301.20M66.46 301.20H69.46" stroke="#444" stroke-width="0.7" fill="none"/>
<text x="67.96" y="299.00" font-size="6.3" text-anchor="middle" fill="#2a2a2a" font-weight="bold" font-family="'Liberation Serif', serif" >ab</text>
<rect x="71.00" y="300.30" width="6.08" height="22.10" fill="#e28f2b" stroke="#000" stroke-width="0.7"/>
<rect x="71.00" y="300.30" width="6.08" height="22.10" fill="url(#hatch)" stroke="#000" stroke-width="0.7"/>
<text x="74.04" y="298.10" font-size="6.3" text-anchor="middle" fill="#2a2a2a" font-weight="bold" font-family="'Liberation Serif', serif" >a</text>
<rect x="86.70" y="281.30" width="6.08" height="41.10" fill="#1b6aac" stroke="#000" stroke-width="0.7"/>
<text x="89.74" y="277.40" font-size="6.3" text-anchor="middle" fill="#2a2a2a" font-weight="bold" font-family="'Liberation Serif', serif" >b</text>
<rect x="92.78" y="285.90" width="6.08" height="36.50" fill="#b93f2d" stroke="#000" stroke-width="0.7"/>
<path d="M95.82 285.90V285.50M94.32 285.50H97.32" stroke="#444" stroke-width="0.7" fill="none"/>
<text x="95.82" y="282.80" font-size="6.3" text-anchor="middle" fill="#2a2a2a" font-weight="bold" font-family="'Liberation Serif', serif" >bc</text>
<rect x="98.86" y="290.60" width="6.08" height="31.80" fill="#e28f2b" stroke="#000" stroke-width="0.7"/>
<path d="M101.90 290.60V286.70M100.40 286.70H103.40" stroke="#444" stroke-width="0.7" fill="none"/>
<text x="101.90" y="285.10" font-size="6.3" text-anchor="middle" fill="#2a2a2a" font-weight="bold" font-family="'Liberation Serif', serif" >bc</text>
<rect x="104.94" y="256.10" width="6.08" height="66.30" fill="#1b6aac" stroke="#000" stroke-width="0.7"/>
<rect x="104.94" y="256.10" width="6.08" height="66.30" fill="url(#hatch)" stroke="#000" stroke-width="0.7"/>
<path d="M107.98 256.10V249.60M106.48 249.60H109.48" stroke="#444" stroke-width="0.7" fill="none"/>
<text x="107.98" y="247.10" font-size="6.3" text-anchor="middle" fill="#2a2a2a" font-weight="bold" font-family="'Liberation Serif', serif" >a</text>
<rect x="111.02" y="282.10" width="6.08" height="40.30" fill="#b93f2d" stroke="#000" stroke-width="0.7"/>
<rect x="111.02" y="282.10" width="6.08" height="40.30" fill="url(#hatch)" stroke="#000" stroke-width="0.7"/>
<path d="M114.06 282.10V279.70M112.56 279.70H115.56" stroke="#444" stroke-width="0.7" fill="none"/>
<text x="114.06" y="277.40" font-size="6.3" text-anchor="middle" fill="#2a2a2a" font-weight="bold" font-family="'Liberation Serif', serif" >bc</text>
<rect x="117.10" y="292.90" width="6.08" height="29.50" fill="#e28f2b" stroke="#000" stroke-width="0.7"/>
<rect x="117.10" y="292.90" width="6.08" height="29.50" fill="url(#hatch)" stroke="#000" stroke-width="0.7"/>
<path d="M120.14 292.90V290.60M118.64 290.60H121.64" stroke="#444" stroke-width="0.7" fill="none"/>
<text x="120.14" y="289.00" font-size="6.3" text-anchor="middle" fill="#2a2a2a" font-weight="bold" font-family="'Liberation Serif', serif" >c</text>
<rect x="132.90" y="274.30" width="6.08" height="48.10" fill="#1b6aac" stroke="#000" stroke-width="0.7"/>
<path d="M135.94 274.30V270.90M134.44 270.90H137.44" stroke="#444" stroke-width="0.7" fill="none"/>
<text x="135.94" y="268.40" font-size="6.3" text-anchor="middle" fill="#2a2a2a" font-weight="bold" font-family="'Liberation Serif', serif" >b</text>
<rect x="138.98" y="284.20" width="6.08" height="38.20" fill="#b93f2d" stroke="#000" stroke-width="0.7"/>
<path d="M142.02 284.20V280.70M140.52 280.70H143.52" stroke="#444" stroke-width="0.7" fill="none"/>
<text x="142.02" y="278.80" font-size="6.3" text-anchor="middle" fill="#2a2a2a" font-weight="bold" font-family="'Liberation Serif', serif" >c</text>
<rect x="145.06" y="291.10" width="6.08" height="31.30" fill="#e28f2b" stroke="#000" stroke-width="0.7"/>
<path d="M148.10 291.10V289.10M146.60 289.10H149.60" stroke="#444" stroke-width="0.7" fill="none"/>
<text x="148.10" y="287.60" font-size="6.3" text-anchor="middle" fill="#2a2a2a" font-weight="bold" font-family="'Liberation Serif', serif" >c</text>
<rect x="151.14" y="224.90" width="6.08" height="97.50" fill="#1b6aac" stroke="#000" stroke-width="0.7"/>
<rect x="151.14" y="224.90" width="6.08" height="97.50" fill="url(#hatch)" stroke="#000" stroke-width="0.7"/>
<path d="M154.18 224.90V223.40M152.68 223.40H155.68" stroke="#444" stroke-width="0.7" fill="none"/>
<text x="154.18" y="221.30" font-size="6.3" text-anchor="middle" fill="#2a2a2a" font-weight="bold" font-family="'Liberation Serif', serif" >a</text>
<rect x="157.22" y="274.80" width="6.08" height="47.60" fill="#b93f2d" stroke="#000" stroke-width="0.7"/>
<rect x="157.22" y="274.80" width="6.08" height="47.60" fill="url(#hatch)" stroke="#000" stroke-width="0.7"/>
<path d="M160.26 274.80V272.90M158.76 272.90H161.76" stroke="#444" stroke-width="0.7" fill="none"/>
<text x="160.26" y="270.40" font-size="6.3" text-anchor="middle" fill="#2a2a2a" font-weight="bold" font-family="'Liberation Serif', serif" >b</text>
<rect x="163.30" y="289.10" width="6.08" height="33.30" fill="#e28f2b" stroke="#000" stroke-width="0.7"/>
<rect x="163.30" y="289.10" width="6.08" height="33.30" fill="url(#hatch)" stroke="#000" stroke-width="0.7"/>
<path d="M166.34 289.10V287.60M164.84 287.60H167.84" stroke="#444" stroke-width="0.7" fill="none"/>
<text x="166.34" y="286.60" font-size="6.3" text-anchor="middle" fill="#2a2a2a" font-weight="bold" font-family="'Liberation Serif', serif" >c</text>
<rect x="186.20" y="266.60" width="6.08" height="55.80" fill="#1b6aac" stroke="#000" stroke-width="0.7"/>
<path d="M189.24 266.60V263.20M187.74 263.20H190.74" stroke="#444" stroke-width="0.7" fill="none"/>
<text x="189.24" y="260.70" font-size="6.3" text-anchor="middle" fill="#2a2a2a" font-weight="bold" font-family="'Liberation Serif', serif" >b</text>
<rect x="192.28" y="283.50" width="6.08" height="38.90" fill="#b93f2d" stroke="#000" stroke-width="0.7"/>
<path d="M195.32 283.50V280.30M193.82 280.30H196.82" stroke="#444" stroke-width="0.7" fill="none"/>
<text x="195.32" y="278.40" font-size="6.3" text-anchor="middle" fill="#2a2a2a" font-weight="bold" font-family="'Liberation Serif', serif" >c</text>
<rect x="198.36" y="288.50" width="6.08" height="33.90" fill="#e28f2b" stroke="#000" stroke-width="0.7"/>
<path d="M201.40 288.50V287.50M199.90 287.50H202.90" stroke="#444" stroke-width="0.7" fill="none"/>
<text x="201.40" y="284.70" font-size="6.3" text-anchor="middle" fill="#2a2a2a" font-weight="bold" font-family="'Liberation Serif', serif" >c</text>
<rect x="204.44" y="222.20" width="6.08" height="100.20" fill="#1b6aac" stroke="#000" stroke-width="0.7"/>
<rect x="204.44" y="222.20" width="6.08" height="100.20" fill="url(#hatch)" stroke="#000" stroke-width="0.7"/>
<path d="M207.48 222.20V221.00M205.98 221.00H208.98" stroke="#444" stroke-width="0.7" fill="none"/>
<text x="207.48" y="218.40" font-size="6.3" text-anchor="middle" fill="#2a2a2a" font-weight="bold" font-family="'Liberation Serif', serif" >a</text>
<rect x="210.52" y="264.90" width="6.08" height="57.50" fill="#b93f2d" stroke="#000" stroke-width="0.7"/>
<rect x="210.52" y="264.90" width="6.08" height="57.50" fill="url(#hatch)" stroke="#000" stroke-width="0.7"/>
<path d="M213.56 264.90V262.00M212.06 262.00H215.06" stroke="#444" stroke-width="0.7" fill="none"/>
<text x="213.56" y="259.40" font-size="6.3" text-anchor="middle" fill="#2a2a2a" font-weight="bold" font-family="'Liberation Serif', serif" >b</text>
<rect x="216.60" y="285.40" width="6.08" height="37.00" fill="#e28f2b" stroke="#000" stroke-width="0.7"/>
<rect x="216.60" y="285.40" width="6.08" height="37.00" fill="url(#hatch)" stroke="#000" stroke-width="0.7"/>
<path d="M219.64 285.40V283.50M218.14 283.50H221.14" stroke="#444" stroke-width="0.7" fill="none"/>
<text x="219.64" y="282.20" font-size="6.3" text-anchor="middle" fill="#2a2a2a" font-weight="bold" font-family="'Liberation Serif', serif" >c</text>
<line x1="177.10" y1="196.70" x2="177.10" y2="322.40" stroke="#000" stroke-width="1.5" stroke-linecap="round" stroke-dasharray="5 4.2"/>
<rect x="37.40" y="196.50" width="188.60" height="125.90" fill="none" stroke="#000" stroke-width="1.2"/>
<line x1="32.40" y1="322.40" x2="37.40" y2="322.40" stroke="#000" stroke-width="1.1"/>
<text x="30.40" y="325.70" font-size="9.3" text-anchor="end" fill="#000" font-weight="bold" font-family="'Liberation Serif', serif" stroke="#000" stroke-width="0.25" >0</text>
<line x1="32.40" y1="294.45" x2="37.40" y2="294.45" stroke="#000" stroke-width="1.1"/>
<text x="30.40" y="297.75" font-size="9.3" text-anchor="end" fill="#000" font-weight="bold" font-family="'Liberation Serif', serif" stroke="#000" stroke-width="0.25" >2</text>
<line x1="32.40" y1="266.50" x2="37.40" y2="266.50" stroke="#000" stroke-width="1.1"/>
<text x="30.40" y="269.80" font-size="9.3" text-anchor="end" fill="#000" font-weight="bold" font-family="'Liberation Serif', serif" stroke="#000" stroke-width="0.25" >4</text>
<line x1="32.40" y1="238.55" x2="37.40" y2="238.55" stroke="#000" stroke-width="1.1"/>
<text x="30.40" y="241.85" font-size="9.3" text-anchor="end" fill="#000" font-weight="bold" font-family="'Liberation Serif', serif" stroke="#000" stroke-width="0.25" >6</text>
<line x1="32.40" y1="210.60" x2="37.40" y2="210.60" stroke="#000" stroke-width="1.1"/>
<text x="30.40" y="213.90" font-size="9.3" text-anchor="end" fill="#000" font-weight="bold" font-family="'Liberation Serif', serif" stroke="#000" stroke-width="0.25" >8</text>
<line x1="226.00" y1="322.40" x2="232.00" y2="322.40" stroke="#000" stroke-width="1.1"/>
<text x="234.50" y="325.70" font-size="9.3" text-anchor="start" fill="#000" font-weight="bold" font-family="'Liberation Serif', serif" stroke="#000" stroke-width="0.25" >0.0</text>
<line x1="226.00" y1="299.56" x2="232.00" y2="299.56" stroke="#000" stroke-width="1.1"/>
<text x="234.50" y="302.86" font-size="9.3" text-anchor="start" fill="#000" font-weight="bold" font-family="'Liberation Serif', serif" stroke="#000" stroke-width="0.25" >0.5</text>
<line x1="226.00" y1="276.72" x2="232.00" y2="276.72" stroke="#000" stroke-width="1.1"/>
<text x="234.50" y="280.02" font-size="9.3" text-anchor="start" fill="#000" font-weight="bold" font-family="'Liberation Serif', serif" stroke="#000" stroke-width="0.25" >1.0</text>
<line x1="226.00" y1="253.88" x2="232.00" y2="253.88" stroke="#000" stroke-width="1.1"/>
<text x="234.50" y="257.18" font-size="9.3" text-anchor="start" fill="#000" font-weight="bold" font-family="'Liberation Serif', serif" stroke="#000" stroke-width="0.25" >1.5</text>
<line x1="226.00" y1="231.04" x2="232.00" y2="231.04" stroke="#000" stroke-width="1.1"/>
<text x="234.50" y="234.34" font-size="9.3" text-anchor="start" fill="#000" font-weight="bold" font-family="'Liberation Serif', serif" stroke="#000" stroke-width="0.25" >2.0</text>
<line x1="226.00" y1="208.20" x2="232.00" y2="208.20" stroke="#000" stroke-width="1.1"/>
<text x="234.50" y="211.50" font-size="9.3" text-anchor="start" fill="#000" font-weight="bold" font-family="'Liberation Serif', serif" stroke="#000" stroke-width="0.25" >2.5</text>
<line x1="61.90" y1="322.40" x2="61.90" y2="327.40" stroke="#000" stroke-width="1.1"/>
<text x="61.90" y="338.70" font-size="9.3" text-anchor="middle" fill="#000" font-weight="bold" font-family="'Liberation Serif', serif" stroke="#000" stroke-width="0.25" >2</text>
<line x1="108.20" y1="322.40" x2="108.20" y2="327.40" stroke="#000" stroke-width="1.1"/>
<text x="108.20" y="338.70" font-size="9.3" text-anchor="middle" fill="#000" font-weight="bold" font-family="'Liberation Serif', serif" stroke="#000" stroke-width="0.25" >4</text>
<line x1="153.90" y1="322.40" x2="153.90" y2="327.40" stroke="#000" stroke-width="1.1"/>
<text x="153.90" y="338.70" font-size="9.3" text-anchor="middle" fill="#000" font-weight="bold" font-family="'Liberation Serif', serif" stroke="#000" stroke-width="0.25" >6</text>
<line x1="200.80" y1="322.40" x2="200.80" y2="327.40" stroke="#000" stroke-width="1.1"/>
<text x="200.80" y="338.70" font-size="9.3" text-anchor="middle" fill="#000" font-weight="bold" font-family="'Liberation Serif', serif" stroke="#000" stroke-width="0.25" >6</text>
<rect x="39.60" y="199.30" width="13.6" height="8.2" fill="#1b6aac" stroke="#111" stroke-width="0.6"/>
<text x="60.80" y="207.00" font-size="10" text-anchor="start" fill="#000" font-weight="bold" font-family="'Liberation Serif', serif" stroke="#000" stroke-width="0.25" >HSN</text>
<rect x="39.60" y="212.30" width="13.6" height="8.2" fill="#b93f2d" stroke="#111" stroke-width="0.6"/>
<text x="60.80" y="220.00" font-size="10" text-anchor="start" fill="#000" font-weight="bold" font-family="'Liberation Serif', serif" stroke="#000" stroke-width="0.25" >HAA</text>
<rect x="39.60" y="224.60" width="13.6" height="8.2" fill="#e28f2b" stroke="#111" stroke-width="0.6"/>
<text x="60.80" y="232.30" font-size="10" text-anchor="start" fill="#000" font-weight="bold" font-family="'Liberation Serif', serif" stroke="#000" stroke-width="0.25" >HU</text>
<rect x="93.50" y="199.30" width="13.6" height="8.2" fill="#1b6aac" stroke="#111" stroke-width="0.6"/>
<rect x="93.50" y="199.30" width="13.6" height="8.2" fill="url(#hatch2)" stroke="#111" stroke-width="0.6"/>
<text x="114.70" y="207.00" font-size="10" text-anchor="start" fill="#000" font-weight="bold" font-family="'Liberation Serif', serif" stroke="#000" stroke-width="0.25" >MSN</text>
<rect x="93.50" y="212.30" width="13.6" height="8.2" fill="#b93f2d" stroke="#111" stroke-width="0.6"/>
<rect x="93.50" y="212.30" width="13.6" height="8.2" fill="url(#hatch2)" stroke="#111" stroke-width="0.6"/>
<text x="114.70" y="220.00" font-size="10" text-anchor="start" fill="#000" font-weight="bold" font-family="'Liberation Serif', serif" stroke="#000" stroke-width="0.25" >MAA</text>
<rect x="93.50" y="224.60" width="13.6" height="8.2" fill="#e28f2b" stroke="#111" stroke-width="0.6"/>
<rect x="93.50" y="224.60" width="13.6" height="8.2" fill="url(#hatch2)" stroke="#111" stroke-width="0.6"/>
<text x="114.70" y="232.30" font-size="10" text-anchor="start" fill="#000" font-weight="bold" font-family="'Liberation Serif', serif" stroke="#000" stroke-width="0.25" >MU</text>
<text transform="translate(15.80,256.60) rotate(-90)" x="0" y="0" font-size="10" text-anchor="middle" fill="#000" font-weight="bold" font-family="'Liberation Serif', serif" stroke="#000" stroke-width="0.25">Lutein concentration (mg·L<tspan dy="-3.8" font-size="7">−1</tspan><tspan dy="3.8">)</tspan></text>
<text transform="translate(258.90,263.90) rotate(-90)" x="0" y="0" font-size="10" text-anchor="middle" fill="#000" font-weight="bold" font-family="'Liberation Serif', serif" stroke="#000" stroke-width="0.25">Lutein content (mg·g<tspan dy="-3.8" font-size="7">−1</tspan><tspan dy="3.8">)</tspan></text>
<text x="131.90" y="347.90" font-size="10" text-anchor="middle" fill="#000" font-weight="bold" font-family="'Liberation Serif', serif" stroke="#000" stroke-width="0.25" >Time (d)</text>
<text x="27.60" y="197.60" font-size="14" text-anchor="start" fill="#000" font-weight="bold" font-family="'Liberation Serif', serif" stroke="#000" stroke-width="0.25" >c</text>
<rect x="330.05" y="254.90" width="12.3" height="66.95" fill="#b2d0cb" stroke="#444" stroke-width="0.8"/>
<path d="M336.20 254.90V253.80M333.60 253.80H338.80" stroke="#222" stroke-width="0.9" fill="none"/>
<rect x="361.35" y="266.30" width="12.3" height="55.55" fill="#b2d0cb" stroke="#444" stroke-width="0.8"/>
<path d="M367.50 266.30V264.60M364.90 264.60H370.10" stroke="#222" stroke-width="0.9" fill="none"/>
<rect x="393.25" y="244.40" width="12.3" height="77.45" fill="#b2d0cb" stroke="#444" stroke-width="0.8"/>
<path d="M399.40 244.40V242.90M396.80 242.90H402.00" stroke="#222" stroke-width="0.9" fill="none"/>
<rect x="424.35" y="239.50" width="12.3" height="82.35" fill="#b2d0cb" stroke="#444" stroke-width="0.8"/>
<path d="M430.50 239.50V236.50M427.90 236.50H433.10" stroke="#222" stroke-width="0.9" fill="none"/>
<rect x="456.15" y="257.60" width="12.3" height="64.25" fill="#b2d0cb" stroke="#444" stroke-width="0.8"/>
<path d="M462.30 257.60V257.10M459.70 257.10H464.90" stroke="#222" stroke-width="0.9" fill="none"/>
<rect x="487.35" y="244.80" width="12.3" height="77.05" fill="#b2d0cb" stroke="#444" stroke-width="0.8"/>
<path d="M493.50 244.80V244.20M490.90 244.20H496.10" stroke="#222" stroke-width="0.9" fill="none"/>
<text x="336.20" y="252.70" font-size="6.3" text-anchor="middle" fill="#2a2a2a" font-weight="bold" font-family="'Liberation Serif', serif" >c</text>
<text x="367.60" y="263.80" font-size="6.3" text-anchor="middle" fill="#2a2a2a" font-weight="bold" font-family="'Liberation Serif', serif" >c</text>
<text x="399.30" y="241.40" font-size="6.3" text-anchor="middle" fill="#2a2a2a" font-weight="bold" font-family="'Liberation Serif', serif" >b</text>
<text x="430.60" y="238.50" font-size="6.3" text-anchor="middle" fill="#2a2a2a" font-weight="bold" font-family="'Liberation Serif', serif" >b</text>
<text x="462.30" y="255.40" font-size="6.3" text-anchor="middle" fill="#2a2a2a" font-weight="bold" font-family="'Liberation Serif', serif" >d</text>
<text x="493.50" y="243.10" font-size="6.3" text-anchor="middle" fill="#2a2a2a" font-weight="bold" font-family="'Liberation Serif', serif" >b</text>
<polyline points="336.20,248.10 367.50,285.00 399.40,234.10 430.50,234.10 462.30,248.00 493.50,229.70" fill="none" stroke="#aa1c1c" stroke-width="1.3" stroke-dasharray="4.5 2.3"/>
<polygon points="336.20,245.20 336.92,247.11 338.96,247.20 337.36,248.48 337.90,250.45 336.20,249.32 334.50,250.45 335.04,248.48 333.44,247.20 335.48,247.11" fill="#aa1c1c"/>
<polygon points="367.50,282.10 368.22,284.01 370.26,284.10 368.66,285.38 369.20,287.35 367.50,286.22 365.80,287.35 366.34,285.38 364.74,284.10 366.78,284.01" fill="#aa1c1c"/>
<polygon points="399.40,231.20 400.12,233.11 402.16,233.20 400.56,234.48 401.10,236.45 399.40,235.32 397.70,236.45 398.24,234.48 396.64,233.20 398.68,233.11" fill="#aa1c1c"/>
<polygon points="430.50,231.20 431.22,233.11 433.26,233.20 431.66,234.48 432.20,236.45 430.50,235.32 428.80,236.45 429.34,234.48 427.74,233.20 429.78,233.11" fill="#aa1c1c"/>
<polygon points="462.30,245.10 463.02,247.01 465.06,247.10 463.46,248.38 464.00,250.35 462.30,249.22 460.60,250.35 461.14,248.38 459.54,247.10 461.58,247.01" fill="#aa1c1c"/>
<polygon points="493.50,226.80 494.22,228.71 496.26,228.80 494.66,230.08 495.20,232.05 493.50,230.92 491.80,232.05 492.34,230.08 490.74,228.80 492.78,228.71" fill="#aa1c1c"/>
<text x="336.20" y="244.70" font-size="6.3" text-anchor="middle" fill="#2a2a2a" font-weight="bold" font-family="'Liberation Serif', serif" >c</text>
<text x="367.30" y="281.00" font-size="6.3" text-anchor="middle" fill="#2a2a2a" font-weight="bold" font-family="'Liberation Serif', serif" >d</text>
<text x="399.30" y="231.00" font-size="6.3" text-anchor="middle" fill="#2a2a2a" font-weight="bold" font-family="'Liberation Serif', serif" >b</text>
<text x="430.60" y="230.90" font-size="6.3" text-anchor="middle" fill="#2a2a2a" font-weight="bold" font-family="'Liberation Serif', serif" >b</text>
<text x="462.30" y="245.20" font-size="6.3" text-anchor="middle" fill="#2a2a2a" font-weight="bold" font-family="'Liberation Serif', serif" >c</text>
<text x="493.50" y="226.90" font-size="6.3" text-anchor="middle" fill="#2a2a2a" font-weight="bold" font-family="'Liberation Serif', serif" >a</text>
<rect x="320.6" y="195.9" width="188.80" height="125.95" fill="none" stroke="#000" stroke-width="1.3"/>
<line x1="315.30" y1="321.85" x2="320.60" y2="321.85" stroke="#000" stroke-width="1.2"/>
<text x="312.90" y="325.75" font-size="9.4" text-anchor="end" fill="#000" font-weight="bold" font-family="'Liberation Sans', sans-serif" stroke="#000" stroke-width="0.25" >0.0</text>
<line x1="315.30" y1="298.72" x2="320.60" y2="298.72" stroke="#000" stroke-width="1.2"/>
<text x="312.90" y="302.62" font-size="9.4" text-anchor="end" fill="#000" font-weight="bold" font-family="'Liberation Sans', sans-serif" stroke="#000" stroke-width="0.25" >0.3</text>
<line x1="315.30" y1="275.59" x2="320.60" y2="275.59" stroke="#000" stroke-width="1.2"/>
<text x="312.90" y="279.49" font-size="9.4" text-anchor="end" fill="#000" font-weight="bold" font-family="'Liberation Sans', sans-serif" stroke="#000" stroke-width="0.25" >0.6</text>
<line x1="315.30" y1="252.46" x2="320.60" y2="252.46" stroke="#000" stroke-width="1.2"/>
<text x="312.90" y="256.36" font-size="9.4" text-anchor="end" fill="#000" font-weight="bold" font-family="'Liberation Sans', sans-serif" stroke="#000" stroke-width="0.25" >0.9</text>
<line x1="315.30" y1="229.33" x2="320.60" y2="229.33" stroke="#000" stroke-width="1.2"/>
<text x="312.90" y="233.23" font-size="9.4" text-anchor="end" fill="#000" font-weight="bold" font-family="'Liberation Sans', sans-serif" stroke="#000" stroke-width="0.25" >1.2</text>
<line x1="315.30" y1="206.20" x2="320.60" y2="206.20" stroke="#000" stroke-width="1.2"/>
<text x="312.90" y="210.10" font-size="9.4" text-anchor="end" fill="#000" font-weight="bold" font-family="'Liberation Sans', sans-serif" stroke="#000" stroke-width="0.25" >1.5</text>
<line x1="509.40" y1="321.85" x2="515.40" y2="321.85" stroke="#000" stroke-width="1.2"/>
<text x="517.40" y="325.15" font-size="10" text-anchor="start" fill="#8e1515" font-weight="bold" font-family="'Liberation Serif', serif" stroke="#8e1515" stroke-width="0.25" >0.15</text>
<line x1="509.40" y1="298.95" x2="515.40" y2="298.95" stroke="#000" stroke-width="1.2"/>
<text x="517.40" y="302.25" font-size="10" text-anchor="start" fill="#8e1515" font-weight="bold" font-family="'Liberation Serif', serif" stroke="#8e1515" stroke-width="0.25" >0.20</text>
<line x1="509.40" y1="276.05" x2="515.40" y2="276.05" stroke="#000" stroke-width="1.2"/>
<text x="517.40" y="279.35" font-size="10" text-anchor="start" fill="#8e1515" font-weight="bold" font-family="'Liberation Serif', serif" stroke="#8e1515" stroke-width="0.25" >0.25</text>
<line x1="509.40" y1="253.15" x2="515.40" y2="253.15" stroke="#000" stroke-width="1.2"/>
<text x="517.40" y="256.45" font-size="10" text-anchor="start" fill="#8e1515" font-weight="bold" font-family="'Liberation Serif', serif" stroke="#8e1515" stroke-width="0.25" >0.30</text>
<line x1="509.40" y1="230.25" x2="515.40" y2="230.25" stroke="#000" stroke-width="1.2"/>
<text x="517.40" y="233.55" font-size="10" text-anchor="start" fill="#8e1515" font-weight="bold" font-family="'Liberation Serif', serif" stroke="#8e1515" stroke-width="0.25" >0.35</text>
<line x1="509.40" y1="207.35" x2="515.40" y2="207.35" stroke="#000" stroke-width="1.2"/>
<text x="517.40" y="210.65" font-size="10" text-anchor="start" fill="#8e1515" font-weight="bold" font-family="'Liberation Serif', serif" stroke="#8e1515" stroke-width="0.25" >0.40</text>
<line x1="336.20" y1="321.85" x2="336.20" y2="327.15" stroke="#000" stroke-width="1.2"/>
<text x="336.20" y="337.60" font-size="10" text-anchor="middle" fill="#000" font-weight="bold" font-family="'Liberation Serif', serif" stroke="#000" stroke-width="0.25" >HSN</text>
<line x1="367.50" y1="321.85" x2="367.50" y2="327.15" stroke="#000" stroke-width="1.2"/>
<text x="367.50" y="337.60" font-size="10" text-anchor="middle" fill="#000" font-weight="bold" font-family="'Liberation Serif', serif" stroke="#000" stroke-width="0.25" >HAA</text>
<line x1="399.40" y1="321.85" x2="399.40" y2="327.15" stroke="#000" stroke-width="1.2"/>
<text x="399.40" y="337.60" font-size="10" text-anchor="middle" fill="#000" font-weight="bold" font-family="'Liberation Serif', serif" stroke="#000" stroke-width="0.25" >HU</text>
<line x1="430.50" y1="321.85" x2="430.50" y2="327.15" stroke="#000" stroke-width="1.2"/>
<text x="430.50" y="337.60" font-size="10" text-anchor="middle" fill="#000" font-weight="bold" font-family="'Liberation Serif', serif" stroke="#000" stroke-width="0.25" >MSN</text>
<line x1="462.30" y1="321.85" x2="462.30" y2="327.15" stroke="#000" stroke-width="1.2"/>
<text x="462.30" y="337.60" font-size="10" text-anchor="middle" fill="#000" font-weight="bold" font-family="'Liberation Serif', serif" stroke="#000" stroke-width="0.25" >MAA</text>
<line x1="493.50" y1="321.85" x2="493.50" y2="327.15" stroke="#000" stroke-width="1.2"/>
<text x="493.50" y="337.60" font-size="10" text-anchor="middle" fill="#000" font-weight="bold" font-family="'Liberation Serif', serif" stroke="#000" stroke-width="0.25" >MU</text>
<text x="414.50" y="352.00" font-size="10" text-anchor="middle" fill="#000" font-weight="bold" font-family="'Liberation Serif', serif" stroke="#000" stroke-width="0.25" >Groups</text>
<text transform="translate(296.00,258.75) rotate(-90)" x="0" y="0" font-size="10" text-anchor="middle" fill="#000" font-weight="bold" font-family="'Liberation Serif', serif" stroke="#000" stroke-width="0.25">Protein yield (g·L<tspan dy="-3.8" font-size="7">−1</tspan><tspan dy="3.8">)</tspan></text>
<text transform="translate(545.70,259.70) rotate(-90)" x="0" y="0" font-size="10" text-anchor="middle" fill="#8e1515" font-weight="bold" font-family="'Liberation Serif', serif" stroke="#8e1515" stroke-width="0.25">Protein content (g·g<tspan dy="-3.8" font-size="7">−1</tspan><tspan dy="3.8">)</tspan></text>
<rect x="323.4" y="198.4" width="12.4" height="8.6" fill="#b2d0cb" stroke="#333" stroke-width="0.9"/>
<text x="344.00" y="206.50" font-size="10" text-anchor="start" fill="#000" font-weight="bold" font-family="'Liberation Serif', serif" stroke="#000" stroke-width="0.25" >Protein yield (g·L<tspan dy="-3.8" font-size="7">−1</tspan><tspan dy="3.8">)</tspan></text>
<line x1="322.2" y1="215.7" x2="336.6" y2="215.7" stroke="#aa1c1c" stroke-width="1.3" stroke-dasharray="4.2 2.2"/>
<polygon points="330.60,212.90 331.29,214.75 333.26,214.83 331.72,216.06 332.25,217.97 330.60,216.88 328.95,217.97 329.48,216.06 327.94,214.83 329.91,214.75" fill="#8e1515"/>
<text x="344.00" y="219.80" font-size="10" text-anchor="start" fill="#8e1515" font-weight="bold" font-family="'Liberation Serif', serif" stroke="#8e1515" stroke-width="0.25" >Protein content (g·g<tspan dy="-3.8" font-size="7">−1</tspan><tspan dy="3.8">)</tspan></text>
<text x="310.60" y="199.30" font-size="14" text-anchor="start" fill="#000" font-weight="bold" font-family="'Liberation Serif', serif" stroke="#000" stroke-width="0.25" >d</text>
</svg>
</body></html>
